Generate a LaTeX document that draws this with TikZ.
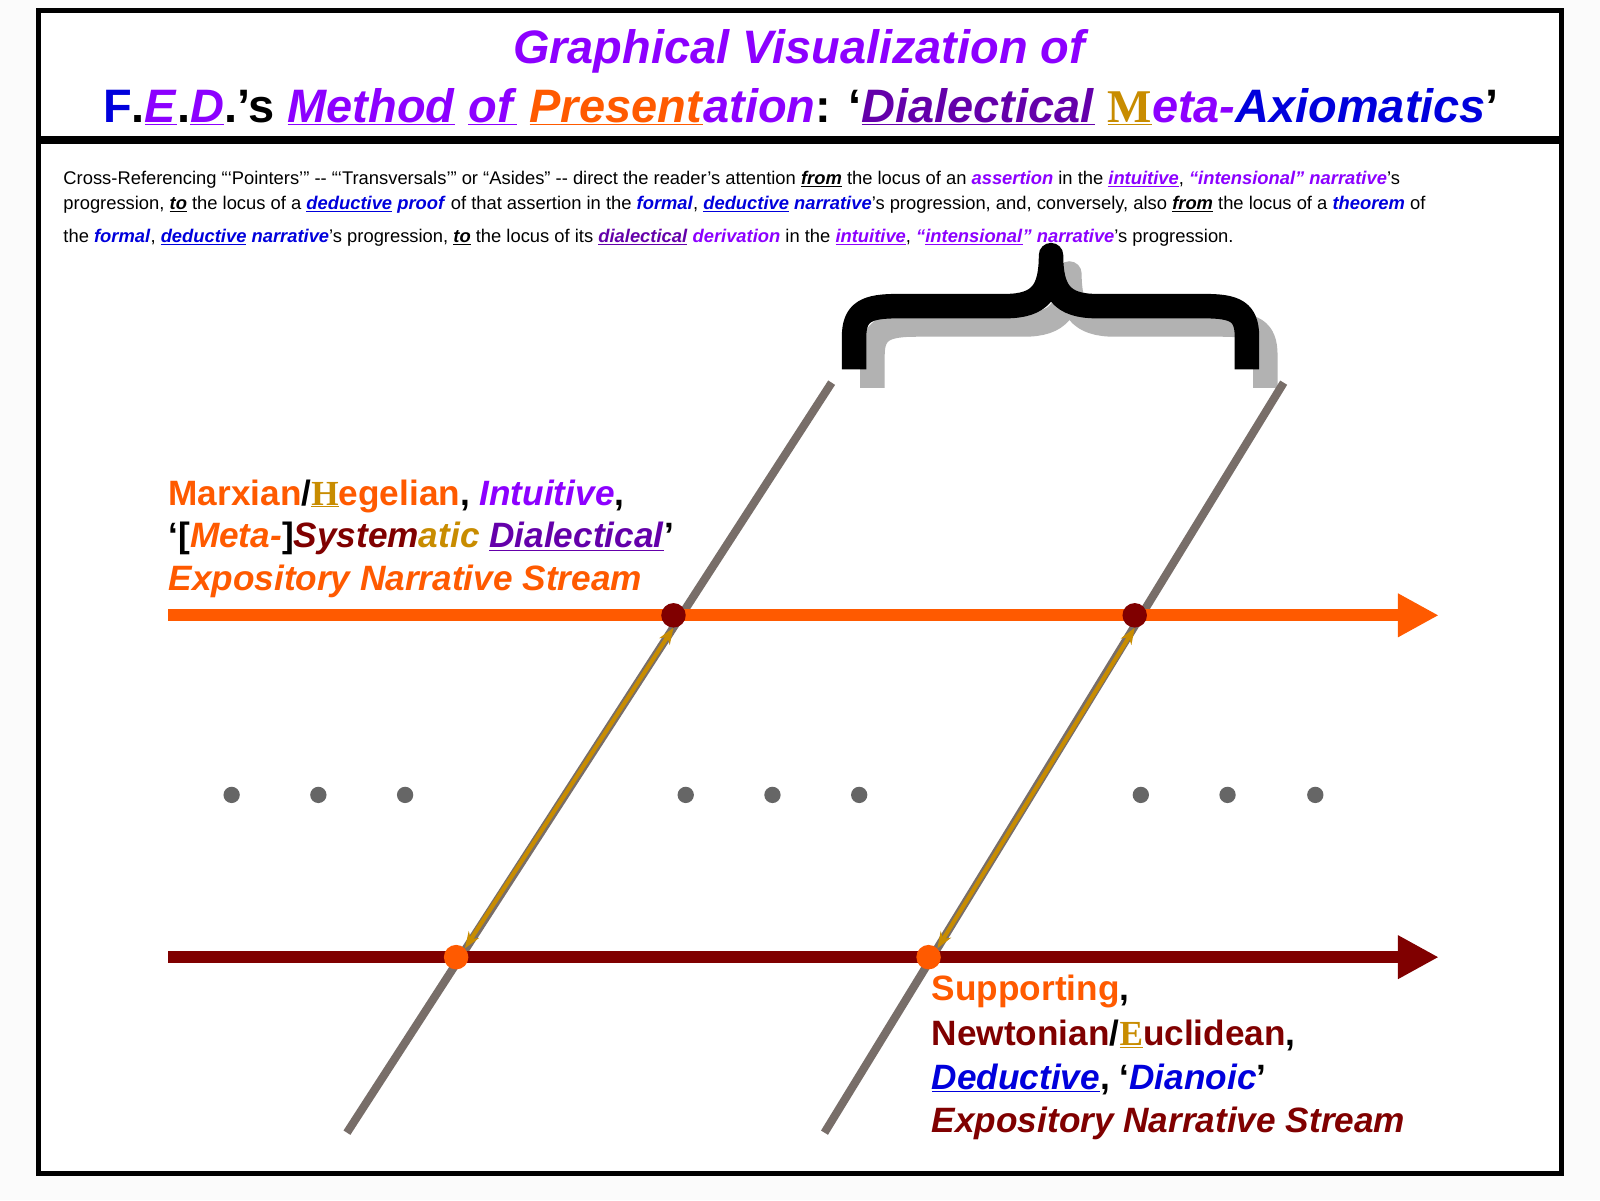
\documentclass[tikz,border=0pt]{standalone}
\usepackage{fontspec}
\setmainfont{Liberation Sans}
\newfontfamily\serifb{Liberation Serif}
\usetikzlibrary{arrows.meta}
\definecolor{pur}{RGB}{140,0,255}
\definecolor{dpur}{RGB}{100,0,170}
\definecolor{ora}{RGB}{255,90,0}
\definecolor{dred}{RGB}{128,0,0}
\definecolor{gold}{RGB}{200,140,0}
\definecolor{blu}{RGB}{0,0,220}
\definecolor{glin}{RGB}{120,110,105}
\newcommand{\ubi}[2]{\textcolor{#1}{\underline{\textbf{\textit{#2}}}}}
\newcommand{\cbi}[2]{\textcolor{#1}{\textbf{\textit{#2}}}}
\newcommand{\serL}[1]{\textcolor{gold}{\underline{\serifb\bfseries #1}}}
\newcommand{\dd}{-{}-}
\tikzset{
  txt/.style={anchor=base west,inner sep=0pt},
  ttl/.style={anchor=base,inner sep=0pt,font=\fontsize{46}{50}\selectfont\bfseries},
  lbl/.style={txt,font=\fontsize{34.5}{38}\selectfont\bfseries},
  par/.style={txt,font=\fontsize{18}{20}\selectfont},
  gline/.style={glin,line width=8pt},
  stream/.style={line width=12pt,-{Triangle[length=40pt,width=40pt]}},
  gold arrow/.style={gold,line width=4pt,{Stealth[length=16pt,width=12pt]}-{Stealth[length=16pt,width=12pt]}},
  gdot/.style={circle,fill=gray!80!black,inner sep=0pt,minimum size=16pt},
  bracepath/.style={line width=24pt,line join=round},
}
\begin{document}
\begin{tikzpicture}[x=1pt,y=-1pt]
\useasboundingbox (0,0) rectangle (1568,1176);
\fill[white!97!gray] (0,0) rectangle (1568,1176);
\fill[white] (38,10) rectangle (1530,1150);
\draw[line width=5pt] (38,10) rectangle (1530,1150);
\draw[line width=8pt] (38,137) -- (1530,137);
% title
\node[ttl] (t1) at (785,62) {\cbi{pur}{Graphical Visualization of}};
\node[ttl] (t2) at (785,120) {\textcolor{blu}{F}.\ubi{pur}{E}.\ubi{pur}{D}.’s \ubi{pur}{Method} \ubi{pur}{of} \ubi{ora}{Present}\cbi{pur}{ation}: ‘\ubi{dpur}{Dialectical} \serL{M}\cbi{pur}{eta-}\cbi{blu}{Axiomatics}’};
% paragraph
\node[par] (p1) at (62,181) {Cross-Referencing “‘Pointers’” \dd{} “‘Transversals’” or “Asides” \dd{} direct the reader’s attention \ubi{black}{from} the locus of an \cbi{pur}{assertion} in the \ubi{pur}{intuitive}, \cbi{pur}{“intensional” narrative}’s};
\node[par] (p2) at (62,205) {progression, \ubi{black}{to} the locus of a \ubi{blu}{deductive} \cbi{blu}{proof} of that assertion in the \cbi{blu}{formal}, \ubi{blu}{deductive} \cbi{blu}{narrative}’s progression, and, conversely, also \ubi{black}{from} the locus of a \cbi{blu}{theorem} of};
\node[par] (p3) at (62,238) {the \cbi{blu}{formal}, \ubi{blu}{deductive} \cbi{blu}{narrative}’s progression, \ubi{black}{to} the locus of its \ubi{dpur}{dialectical} \cbi{pur}{derivation} in the \ubi{pur}{intuitive}, \cbi{pur}{“}\ubi{pur}{intensional}\cbi{pur}{” narrative}’s progression.};
% brace
\begin{scope}[shift={(18,18)}]
\draw[bracepath,gray!60] (837,362) -- (837,330) .. controls (837,305) and (850,300) .. (880,300) -- (985,300) .. controls (1020,300) and (1030,285) .. (1030,250) .. controls (1030,285) and (1040,300) .. (1075,300) -- (1180,300) .. controls (1210,300) and (1222,305) .. (1222,330) -- (1222,362);
\end{scope}
\draw[bracepath,black] (837,362) -- (837,330) .. controls (837,305) and (850,300) .. (880,300) -- (985,300) .. controls (1020,300) and (1030,285) .. (1030,250) .. controls (1030,285) and (1040,300) .. (1075,300) -- (1180,300) .. controls (1210,300) and (1222,305) .. (1222,330) -- (1222,362);
% gray transversals
\coordinate (a1) at (815,375); \coordinate (a2) at (340,1110);
\coordinate (b1) at (1258,375); \coordinate (b2) at (808,1110);
\draw[gline] (a1) -- (a2);
\draw[gline] (b1) -- (b2);
% streams
\coordinate (os) at (165,603); \coordinate (oe) at (1410,603);
\coordinate (rs) at (165,938); \coordinate (re) at (1410,938);
\draw[stream,ora] (os) -- (oe);
\draw[stream,dred] (rs) -- (re);
% intersection dots
\node[circle,fill=dred,inner sep=0pt,minimum size=24pt] (u1) at (660,603) {};
\node[circle,fill=dred,inner sep=0pt,minimum size=24pt] (u2) at (1112,603) {};
\node[circle,fill=ora,inner sep=0pt,minimum size=24pt] (l1) at (447,938) {};
\node[circle,fill=ora,inner sep=0pt,minimum size=24pt] (l2) at (910,938) {};
\draw[gold arrow] (l1.north east) -- (u1.south);
\draw[gold arrow] (l2.north east) -- (u2.south);
% gray dots
\foreach \x/\n in {227/d1,312/d2,397/d3,672/d4,757/d5,842/d6,1118/d7,1203/d8,1289/d9}
  \node[gdot] (\n) at (\x,779) {};
% left label
\node[lbl] (L1) at (165,495) {\textcolor{ora}{Marxian}/\serL{H}\textcolor{ora}{egelian}, \cbi{pur}{Intuitive},};
\node[lbl] (L2) at (165,537) {‘[\cbi{ora}{Meta-}]\cbi{dred}{System}\cbi{gold}{atic} \ubi{dpur}{Dialectical}’};
\node[lbl] (L3) at (165,579) {\cbi{ora}{Expository Narrative Stream}};
% right label
\node[lbl] (R1) at (913,980) {\textcolor{ora}{Supporting},};
\node[lbl] (R2) at (913,1025) {\textcolor{dred}{Newtonian}/\serL{E}\textcolor{dred}{uclidean},};
\node[lbl] (R3) at (913,1068) {\ubi{blu}{Deductive}, ‘\cbi{blu}{Dianoic}’};
\node[lbl] (R4) at (913,1110) {\cbi{dred}{Expository Narrative Stream}};
\end{tikzpicture}
\end{document}
